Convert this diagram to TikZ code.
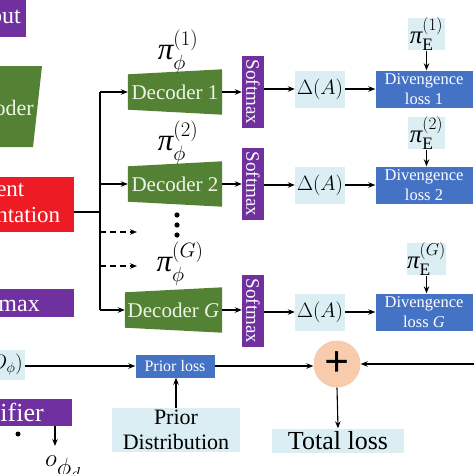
\documentclass[tikz,border=0pt]{standalone}
\usepackage{fontspec}
\usepackage{graphicx}
\usepackage{amsmath}
\setmainfont{Liberation Serif}
\usetikzlibrary{arrows.meta,calc,backgrounds}
\definecolor{purp}{HTML}{7030A0}
\definecolor{redb}{HTML}{ED1C24}
\definecolor{grn}{HTML}{548235}
\definecolor{declight}{HTML}{EEF5E6}
\definecolor{lblue}{HTML}{DAEEF3}
\definecolor{dblue}{HTML}{4472C4}
\definecolor{peach}{HTML}{F8CBAD}
\newcommand{\dectrap}[1]{\begin{pgfonlayer}{background}\fill[grn] (#1.north west) -- ($(#1.north east)+(0,-5)$) -- ($(#1.south east)+(0,5)$) -- (#1.south west) -- cycle;\end{pgfonlayer}}
\newcommand{\gpi}{\text{\itshape π}}
\begin{document}
\begin{tikzpicture}[x=1pt,y=-1pt,
  ln/.style={line width=1.1pt},
  arr/.style={ln,-{Stealth[length=7pt,width=5.5pt]}},
  darr/.style={arr,dash pattern=on 6pt off 4pt},
  decbox/.style={minimum width=94pt,minimum height=35pt,inner sep=0pt,text=declight,font=\fontsize{21}{25}\selectfont},
  smbox/.style={fill=purp,text=white,minimum width=22pt,minimum height=72pt,inner sep=0pt,font=\fontsize{19}{20}\selectfont},
  dbox/.style={fill=lblue,minimum width=50pt,minimum height=37pt,inner sep=0pt,font=\fontsize{22}{24}\selectfont},
  divbox/.style={fill=dblue,text=white,minimum width=97pt,minimum height=37pt,inner sep=0pt,align=center,font=\fontsize{16.5}{20}\selectfont},
  pebox/.style={fill=lblue,minimum width=37pt,minimum height=30pt,inner sep=0pt,font=\fontsize{25}{26}\selectfont},
  pilab/.style={inner sep=0pt,font=\fontsize{31}{32}\selectfont},
  sidebox/.style={anchor=east,text width=150pt,align=right,inner ysep=0pt}
]
\useasboundingbox (0,0) rectangle (474,474);
\clip (0,0) rectangle (474,474);

% left column (partly outside the picture)
\node[sidebox,fill=purp,text=white,minimum height=37pt,inner xsep=5pt,font=\fontsize{24}{26}\selectfont] (inp) at (26,18.5) {Input};
\fill[grn] (-60,66) -- (42,66) -- (33,147) -- (-51,147) -- cycle;
\node[anchor=east,inner sep=0pt,text=declight,font=\fontsize{22}{24}\selectfont] (enc) at (34,108) {Encoder};
\node[fill=redb,text=white,minimum height=55pt,minimum width=158pt,align=center,inner sep=0pt,font=\fontsize{23}{26}\selectfont] (lat) at (-5,204.5) {Latent\\representation};
\node[sidebox,fill=purp,text=white,minimum height=28pt,inner xsep=34pt,font=\fontsize{24}{26}\selectfont] (smx) at (74,303) {Softmax};
\node[sidebox,fill=lblue,minimum height=30pt,inner xsep=2pt,font=\fontsize{20}{22}\selectfont] (ophi) at (25,365) {$p(O_\phi)$};
\node[sidebox,fill=purp,text=white,minimum height=27pt,inner xsep=28pt,font=\fontsize{26}{28}\selectfont] (cls) at (72,412.5) {Classifier};
\fill (18,434) circle (2.5pt);
\coordinate (oc) at (55,446);
\node[anchor=north west,inner sep=0pt,font=\fontsize{36}{38}\selectfont] (od) at (45,456) {$o_{\phi_d}$};
\draw[arr] (cls.south -| oc) -- (oc);

% spine
\coordinate (sp) at (100,212);
\draw[ln] (lat.east |- sp) -- (sp);

% decoders
\node[decbox] (dec1) at (175,92) {Decoder 1};
\dectrap{dec1}
\node[decbox] (dec2) at (175,184) {Decoder 2};
\dectrap{dec2}
\node[decbox,minimum width=97pt] (decG) at (173.5,310) {Decoder \textit{G}};
\dectrap{decG}

\draw[ln] (sp |- dec1.west) -- (sp |- decG.west);
\draw[arr] (sp |- dec1.west) -- (dec1.west);
\draw[arr] (sp |- dec2.west) -- (dec2.west);
\draw[arr] (sp |- decG.west) -- (decG.west);
\coordinate (da) at (137,232);
\coordinate (db) at (137,266);
\draw[darr] (sp |- da) -- (da);
\draw[darr] (sp |- db) -- (db);

\node[pilab] (pi1) at (178,52) {$\gpi_{\phi}^{(1)}$};
\node[pilab] (pi2) at (178,143) {$\gpi_{\phi}^{(2)}$};
\node[pilab] (piG) at (180,264) {$\gpi_{\phi}^{(G)}$};
\foreach \yy in {215,225,235} \fill (177,\yy) circle (2.6pt);

% softmax, delta, divergence rows
\node[smbox] (sm1) at (253,92) {\rotatebox{-90}{Softmax}};
\node[smbox] (sm2) at (253,184) {\rotatebox{-90}{Softmax}};
\node[smbox] (smG) at (253,311) {\rotatebox{-90}{Softmax}};
\node[dbox] (dl1) at (320,89) {$\Delta(A)$};
\node[dbox] (dl2) at (320,185) {$\Delta(A)$};
\node[dbox] (dlG) at (320,312) {$\Delta(A)$};
\node[divbox] (dv1) at (424,89) {Divengence\\loss 1};
\node[divbox] (dv2) at (424,185) {Divengence\\loss 2};
\node[divbox] (dvG) at (424,312) {Divengence\\loss \textit{G}};
\node[pebox] (pe1) at (426.5,34) {$\gpi_{\mathrm{E}}^{(1)}$};
\node[pebox] (pe2) at (426.5,133) {$\gpi_{\mathrm{E}}^{(2)}$};
\node[pebox] (peG) at (426.5,259) {$\gpi_{\mathrm{E}}^{(G)}$};

\foreach \d/\s/\l/\v/\p in {dec1/sm1/dl1/dv1/pe1,dec2/sm2/dl2/dv2/pe2,decG/smG/dlG/dvG/peG}{
  \draw[arr] (\d.east) -- (\d.east -| \s.west);
  \draw[arr] (\s.east |- \l.west) -- (\l.west);
  \draw[arr] (\l.east) -- (\v.west);
  \draw[arr] (\p.south) -- (\p.south |- \v.north);
}

% bottom part
\node[fill=dblue,text=white,minimum width=79pt,minimum height=23pt,inner sep=0pt,font=\fontsize{16}{18}\selectfont] (prior) at (175,366) {Prior loss};
\node[fill=lblue,minimum width=128pt,minimum height=44pt,inner sep=0pt,align=center,font=\fontsize{22}{25}\selectfont] (pdist) at (176,430) {Prior\\Distribution};
\node[circle,fill=peach,minimum size=47pt,inner sep=0pt,font=\fontsize{44}{44}\selectfont\bfseries] (plus) at (337,364) {+};
\node[fill=lblue,minimum width=132pt,minimum height=24pt,inner sep=0pt,font=\fontsize{26}{28}\selectfont] (total) at (338,440.5) {Total loss};
\coordinate (rt) at (474,364);

\draw[arr] (ophi.east |- prior.west) -- (prior.west);
\draw[arr] (prior.east) -- (prior.east -| plus.west);
\draw[arr] (rt) -- (plus.east);
\draw[arr] (plus.south) -- (total.north);
\draw[arr] (pdist.north) -- (pdist.north |- prior.south);
\end{tikzpicture}
\end{document}
